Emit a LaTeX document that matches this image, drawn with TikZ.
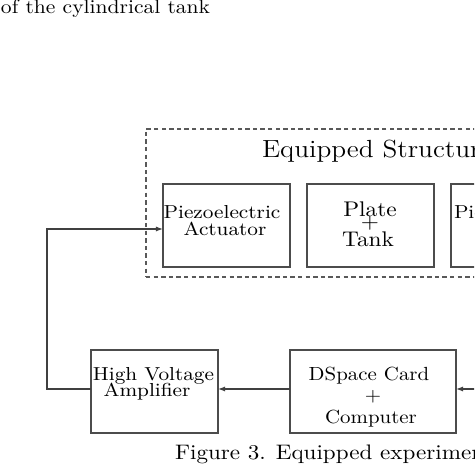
\documentclass[tikz,border=0pt]{standalone}
\usetikzlibrary{arrows.meta}
\newcommand{\hsx}[1]{\scalebox{1.1}[1]{#1}}
\tikzset{
  x=0.5pt, y=-0.5pt,
  lbl/.style={anchor=base, inner sep=0pt, outer sep=0pt, text=black},
  lblw/.style={anchor=base west, inner sep=0pt, outer sep=0pt, text=black},
  blk/.style={draw=black!70, line width=0.7pt, minimum width=63.5pt, minimum height=41.5pt, inner sep=0pt, outer sep=0pt},
  conn/.style={draw=black!75, line width=0.6pt},
  arr/.style={conn, -{Latex[length=3.6pt,width=2.6pt]}},
  fs/.style={font=\fontsize{#1}{#1}\selectfont}
}
\begin{document}
\begin{tikzpicture}
\useasboundingbox (0,0) rectangle (474,474);
\clip (0,0) rectangle (474,474);
\fill[white] (0,0) rectangle (474,474);

% top text
\node[lblw, fs=9.8] (toptxt) at (1,14) {\hsx{of the cylindrical tank}};

% equipped structure (dashed)
\node[draw=black!65, dash pattern=on 2.2pt off 1.6pt, line width=0.6pt,
      minimum width=177pt, minimum height=74pt, inner sep=0pt] (struct) at (323,203) {};
\node[lblw, fs=12.4] (structtxt) at (262,158) {\hsx{Equipped Structure}};

% boxes
\node[blk] (piezo) at (226.5,225.5) {};
\node[lbl, fs=9.4] (piezo1) at (222,219) {\hsx{Piezoelectric}};
\node[lbl, fs=9.4] (piezo2) at (225,236) {\hsx{Actuator}};

\node[blk] (plate) at (370.5,225.5) {};
\node[lbl, fs=10.6] (plate1) at (370,217) {\hsx{Plate}};
\node[inner sep=0pt, fs=10.6] (plate2) at (370,223) {\hsx{+}};
\node[lbl, fs=10.6] (plate3) at (368,247) {\hsx{Tank}};

\node[blk] (sensor) at (514.5,225.5) {};
\node[lblw, fs=9.4] (sensor1) at (454,219) {\hsx{Piezoelectric}};

\node[blk] (hv) at (154.5,391.5) {};
\node[lbl, fs=9.4] (hv1) at (153.5,380) {\hsx{High Voltage}};
\node[lbl, fs=9.4] (hv2) at (147,396.5) {\hsx{Amplifier}};

\node[blk, minimum width=83pt] (dsp) at (373,391.5) {};
\node[lbl, fs=9.5] (dsp1) at (369,380) {\hsx{DSpace Card}};
\node[inner sep=0pt, fs=9.5] (dsp2) at (373,397) {\hsx{+}};
\node[lbl, fs=9.5] (dsp3) at (371,423) {\hsx{Computer}};

% caption
\node[lblw, fs=10.5] (cap) at (175,459) {\hsx{Figure 3.\hspace{4.5pt}Equipped experimental set-up}};

% connectors
\coordinate (Y) at (0,389);
\coordinate (Z) at (0,229);
\coordinate (c1) at (47,389);
\coordinate (c2) at (47,229);
\coordinate (rin) at (500,389);
\draw[arr] (dsp.west |- Y) -- (hv.east |- Y);
\draw[arr] (rin) -- (dsp.east |- Y);
\draw[arr] (hv.west |- Y) -- (c1) -- (c2) -- (piezo.west |- Z);
\end{tikzpicture}
\end{document}
